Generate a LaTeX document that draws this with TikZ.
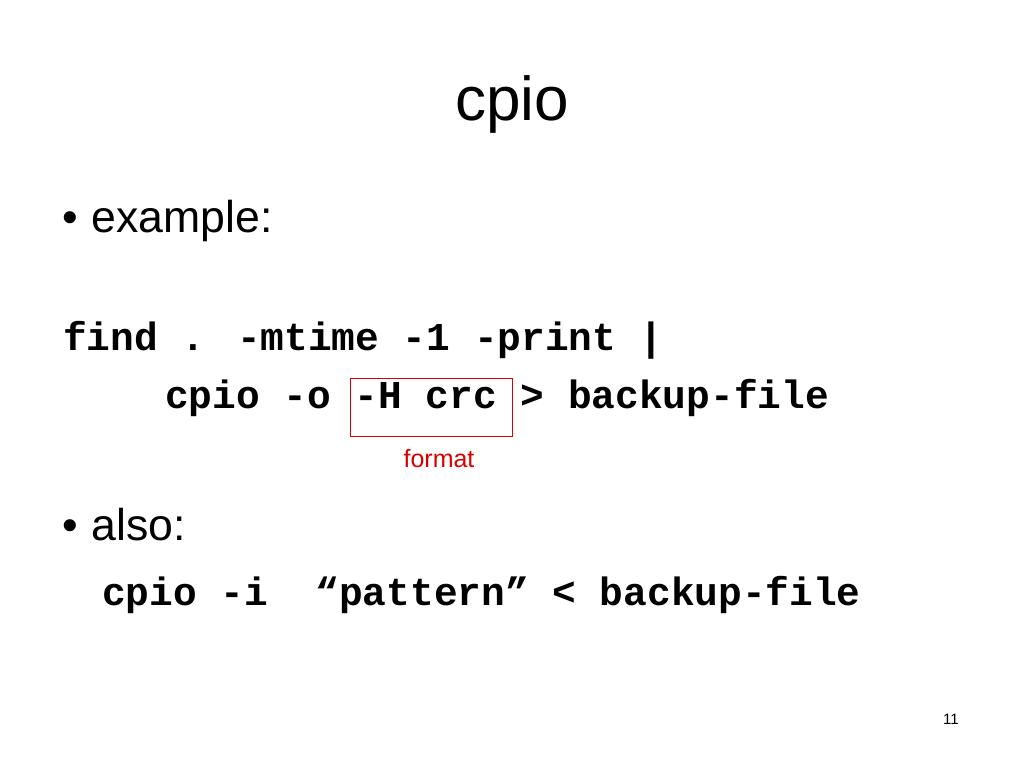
\documentclass[tikz,border=0pt]{standalone}
\usepackage{fontspec}
\setmainfont{Liberation Sans}
\newfontfamily\codefont{Liberation Mono}
\begin{document}
\begin{tikzpicture}[x=1pt,y=-1pt,
  txt/.style={anchor=base west,inner sep=0pt},
  code/.style={txt,font=\codefont\bfseries\fontsize{39.5}{40}\selectfont}]
\useasboundingbox (0,0) rectangle (1024,768);
\node[anchor=base,inner sep=0pt,font=\fontsize{62}{64}\selectfont] (title) at (512,120) {cpio};
\node[txt,font=\fontsize{44.6}{46}\selectfont] (b1) at (62,232) {•\hspace{14pt}example:};
\node[code] (l1) at (63,350) {find . -mtime -1 -print |};
\node[code] (l2) at (165,408) {cpio -o -H crc > backup-file};
\draw[red!85!black,line width=1pt] (350,378) rectangle (512,436);
\node[anchor=base,inner sep=0pt,text=red!85!black,font=\fontsize{25}{26}\selectfont] (fmt) at (439,467) {format};
\node[txt,font=\fontsize{44.6}{46}\selectfont] (b2) at (62,540) {•\hspace{14pt}also:};
\node[code] (l3) at (102,605) {cpio -i\ \ “pattern” < backup-file};
\node[anchor=base,inner sep=0pt,font=\fontsize{15}{16}\selectfont] (pg) at (951,724) {11};
\end{tikzpicture}
\end{document}
